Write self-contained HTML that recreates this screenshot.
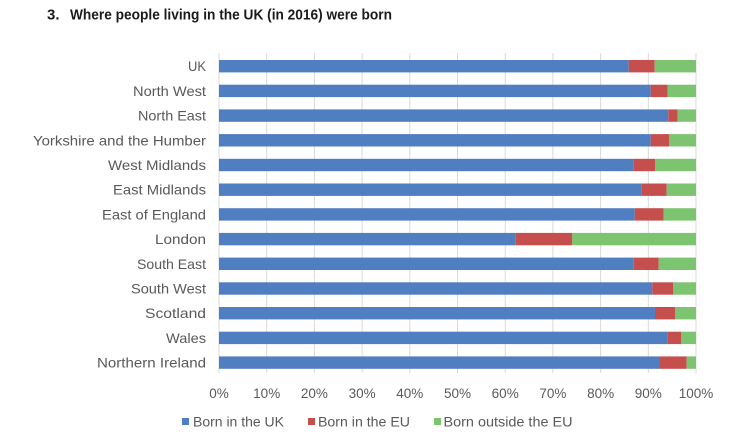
<!DOCTYPE html>
<html>
<head>
<meta charset="utf-8">
<style>
html,body{margin:0;padding:0;background:#fff;}
svg{display:block;}
text{font-family:"Liberation Sans",Arial,sans-serif;}
</style>
</head>
<body>
<svg width="745" height="440" viewBox="0 0 745 440" xmlns="http://www.w3.org/2000/svg">
<rect width="745" height="440" fill="#fff"/>
<text x="47" y="19.5" font-size="15" font-weight="bold" fill="#1a1a1a">3.</text>
<text x="70" y="19.5" font-size="15" font-weight="bold" fill="#1a1a1a" textLength="322" lengthAdjust="spacingAndGlyphs">Where people living in the UK (in 2016) were born</text>

<g stroke="#d9d9d9" stroke-width="1">
<line x1="219" y1="53" x2="219" y2="373"/>
<line x1="266.7" y1="53" x2="266.7" y2="373"/>
<line x1="314.4" y1="53" x2="314.4" y2="373"/>
<line x1="362.1" y1="53" x2="362.1" y2="373"/>
<line x1="409.8" y1="53" x2="409.8" y2="373"/>
<line x1="457.5" y1="53" x2="457.5" y2="373"/>
<line x1="505.2" y1="53" x2="505.2" y2="373"/>
<line x1="552.9" y1="53" x2="552.9" y2="373"/>
<line x1="600.6" y1="53" x2="600.6" y2="373"/>
<line x1="648.3" y1="53" x2="648.3" y2="373"/>
<line x1="696" y1="53" x2="696" y2="373"/>
</g>

<g id="bars">
<rect x="219" y="60" width="409.7" height="12.4" fill="#4f7ec1"/>
<rect x="628.7" y="60" width="26" height="12.4" fill="#c44f4d"/>
<rect x="654.7" y="60" width="41.3" height="12.4" fill="#7cc46f"/>
<rect x="219" y="84.7" width="431.7" height="12.4" fill="#4f7ec1"/>
<rect x="650.7" y="84.7" width="17" height="12.4" fill="#c44f4d"/>
<rect x="667.7" y="84.7" width="28.3" height="12.4" fill="#7cc46f"/>
<rect x="219" y="109.4" width="449.3" height="12.4" fill="#4f7ec1"/>
<rect x="668.3" y="109.4" width="9.4" height="12.4" fill="#c44f4d"/>
<rect x="677.7" y="109.4" width="18.3" height="12.4" fill="#7cc46f"/>
<rect x="219" y="134.1" width="431.7" height="12.4" fill="#4f7ec1"/>
<rect x="650.7" y="134.1" width="18.3" height="12.4" fill="#c44f4d"/>
<rect x="669" y="134.1" width="27" height="12.4" fill="#7cc46f"/>
<rect x="219" y="158.8" width="414.7" height="12.4" fill="#4f7ec1"/>
<rect x="633.7" y="158.8" width="21.6" height="12.4" fill="#c44f4d"/>
<rect x="655.3" y="158.8" width="40.7" height="12.4" fill="#7cc46f"/>
<rect x="219" y="183.5" width="422.7" height="12.4" fill="#4f7ec1"/>
<rect x="641.7" y="183.5" width="25" height="12.4" fill="#c44f4d"/>
<rect x="666.7" y="183.5" width="29.3" height="12.4" fill="#7cc46f"/>
<rect x="219" y="208.2" width="415.7" height="12.4" fill="#4f7ec1"/>
<rect x="634.7" y="208.2" width="29" height="12.4" fill="#c44f4d"/>
<rect x="663.7" y="208.2" width="32.3" height="12.4" fill="#7cc46f"/>
<rect x="219" y="232.9" width="296.7" height="12.4" fill="#4f7ec1"/>
<rect x="515.7" y="232.9" width="56.6" height="12.4" fill="#c44f4d"/>
<rect x="572.3" y="232.9" width="123.7" height="12.4" fill="#7cc46f"/>
<rect x="219" y="257.6" width="414.7" height="12.4" fill="#4f7ec1"/>
<rect x="633.7" y="257.6" width="25" height="12.4" fill="#c44f4d"/>
<rect x="658.7" y="257.6" width="37.3" height="12.4" fill="#7cc46f"/>
<rect x="219" y="282.3" width="433.3" height="12.4" fill="#4f7ec1"/>
<rect x="652.3" y="282.3" width="20.7" height="12.4" fill="#c44f4d"/>
<rect x="673" y="282.3" width="23" height="12.4" fill="#7cc46f"/>
<rect x="219" y="307" width="436" height="12.4" fill="#4f7ec1"/>
<rect x="655" y="307" width="20" height="12.4" fill="#c44f4d"/>
<rect x="675" y="307" width="21" height="12.4" fill="#7cc46f"/>
<rect x="219" y="331.7" width="448.7" height="12.4" fill="#4f7ec1"/>
<rect x="667.7" y="331.7" width="13.3" height="12.4" fill="#c44f4d"/>
<rect x="681" y="331.7" width="15" height="12.4" fill="#7cc46f"/>
<rect x="219" y="356.4" width="441" height="12.4" fill="#4f7ec1"/>
<rect x="660" y="356.4" width="26.7" height="12.4" fill="#c44f4d"/>
<rect x="686.7" y="356.4" width="9.3" height="12.4" fill="#7cc46f"/>
</g>

<g font-size="14" fill="#595959" text-anchor="end">
<text x="206" y="71.2" textLength="18" lengthAdjust="spacingAndGlyphs">UK</text>
<text x="206" y="95.9" textLength="73" lengthAdjust="spacingAndGlyphs">North West</text>
<text x="206" y="120.6" textLength="68" lengthAdjust="spacingAndGlyphs">North East</text>
<text x="206" y="145.3" textLength="173" lengthAdjust="spacingAndGlyphs">Yorkshire and the Humber</text>
<text x="206" y="170" textLength="98" lengthAdjust="spacingAndGlyphs">West Midlands</text>
<text x="206" y="194.7" textLength="93" lengthAdjust="spacingAndGlyphs">East Midlands</text>
<text x="206" y="219.4" textLength="104" lengthAdjust="spacingAndGlyphs">East of England</text>
<text x="206" y="244.1" textLength="51" lengthAdjust="spacingAndGlyphs">London</text>
<text x="206" y="268.8" textLength="69" lengthAdjust="spacingAndGlyphs">South East</text>
<text x="206" y="293.5" textLength="75" lengthAdjust="spacingAndGlyphs">South West</text>
<text x="206" y="318.2" textLength="61" lengthAdjust="spacingAndGlyphs">Scotland</text>
<text x="206" y="342.9" textLength="40" lengthAdjust="spacingAndGlyphs">Wales</text>
<text x="206" y="367.6" textLength="109" lengthAdjust="spacingAndGlyphs">Northern Ireland</text>
</g>

<g font-size="13.5" fill="#595959" text-anchor="middle">
<text x="219" y="398">0%</text>
<text x="266.7" y="398">10%</text>
<text x="314.4" y="398">20%</text>
<text x="362.1" y="398">30%</text>
<text x="409.8" y="398">40%</text>
<text x="457.5" y="398">50%</text>
<text x="505.2" y="398">60%</text>
<text x="552.9" y="398">70%</text>
<text x="600.6" y="398">80%</text>
<text x="648.3" y="398">90%</text>
<text x="696" y="398">100%</text>
</g>

<g font-size="14" fill="#595959">
<rect x="182" y="418" width="7" height="7" fill="#4f7ec1"/>
<text x="193" y="426.5" textLength="91" lengthAdjust="spacingAndGlyphs">Born in the UK</text>
<rect x="308" y="418" width="7" height="7" fill="#c44f4d"/>
<text x="318" y="426.5" textLength="92" lengthAdjust="spacingAndGlyphs">Born in the EU</text>
<rect x="434" y="418" width="7" height="7" fill="#7cc46f"/>
<text x="443.5" y="426.5" textLength="129" lengthAdjust="spacingAndGlyphs">Born outside the EU</text>
</g>
</svg>
</body>
</html>
